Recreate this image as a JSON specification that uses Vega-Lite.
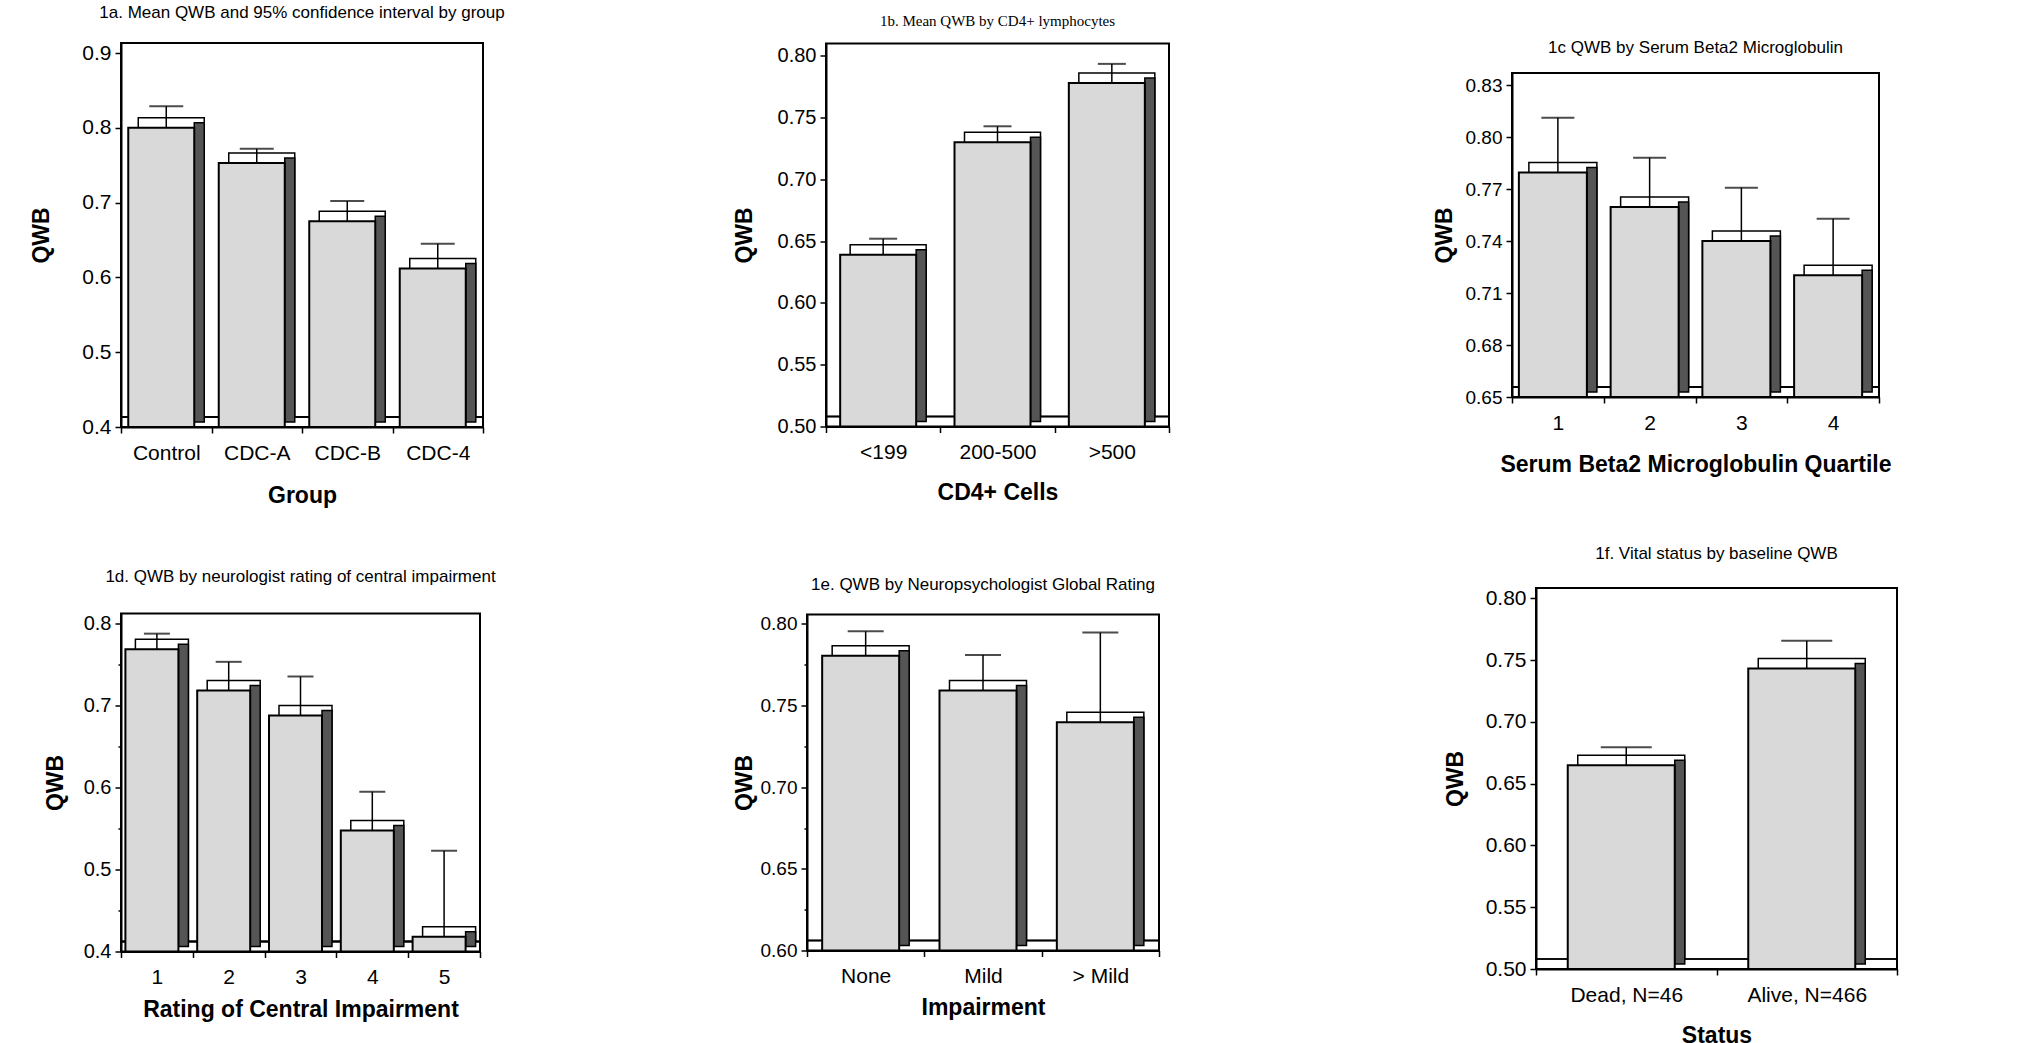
{
"$schema": "https://vega.github.io/schema/vega-lite/v6.json",
"background": "white",
"padding": {"left": 29, "top": 3, "right": 5, "bottom": 5},
"datasets": {
"a": [{"cat":"Control","qwb":0.800,"upper":0.829},{"cat":"CDC-A","qwb":0.753,"upper":0.772},{"cat":"CDC-B","qwb":0.675,"upper":0.702},{"cat":"CDC-4","qwb":0.612,"upper":0.645}],
"b": [{"cat":"<199","qwb":0.639,"upper":0.652},{"cat":"200-500","qwb":0.730,"upper":0.743},{"cat":">500","qwb":0.778,"upper":0.7935}],
"c": [{"cat":"1","qwb":0.7796,"upper":0.8113},{"cat":"2","qwb":0.7597,"upper":0.7882},{"cat":"3","qwb":0.7401,"upper":0.7709},{"cat":"4","qwb":0.7203,"upper":0.753}],
"d": [{"cat":"1","qwb":0.769,"upper":0.788},{"cat":"2","qwb":0.7186,"upper":0.7536},{"cat":"3","qwb":0.688,"upper":0.7357},{"cat":"4","qwb":0.5477,"upper":0.595},{"cat":"5","qwb":0.418,"upper":0.523}],
"e": [{"cat":"None","qwb":0.7806,"upper":0.7955},{"cat":"Mild","qwb":0.7592,"upper":0.781},{"cat":"> Mild","qwb":0.7398,"upper":0.7947}],
"f": [{"cat":"Dead, N=46","qwb":0.665,"upper":0.6794},{"cat":"Alive, N=466","qwb":0.7433,"upper":0.7657}]
},
"spacing": 36,
"vconcat": [
{
"hconcat": [
{
"width": 362, "height": 384,
"title": {"text": "1a.  Mean QWB and 95% confidence interval by group", "offset": 20},
"data": {"name": "a"},
"layer": [
{"mark": {"type": "rule", "yOffset": -10, "strokeWidth": 1.5, "color": "black"},
 "encoding": {"y": {"datum": 0.4, "type": "quantitative", "title": "QWB", "scale": {"domain": [0.4, 0.9134], "nice": false, "zero": false}, "axis": {"values": [0.4, 0.45, 0.5, 0.55, 0.6, 0.65, 0.7, 0.75, 0.8, 0.85, 0.9], "format": ".1f", "labelExpr": "indexof([0.4, 0.5, 0.6, 0.7, 0.8, 0.9], datum.value) < 0 ? '' : datum.label", "tickSize": {"condition": {"test": "indexof([0.4, 0.5, 0.6, 0.7, 0.8, 0.9], datum.value) < 0", "value": 3}, "value": 6}, "titlePadding": 28, "labelFontSize": 21}}}},
{"mark": {"type": "bar", "width": 66, "xOffset": 5, "yOffset": -10, "y2Offset": -10, "fill": "white", "stroke": "black", "strokeWidth": 1.5},
 "encoding": {"x": {"field": "cat", "type": "nominal", "sort": null, "title": "Group", "scale": {"paddingInner": 0, "paddingOuter": 0}, "axis": {"titlePadding": 21}},
  "y": {"field": "qwb", "type": "quantitative", "title": "QWB", "scale": {"domain": [0.4, 0.9134], "nice": false, "zero": false}}, "y2": {"datum": 0.4}}},
{"mark": {"type": "bar", "width": 10, "xOffset": 33, "yOffset": -5, "y2Offset": -5, "fill": "#555555", "stroke": "black", "strokeWidth": 1.5},
 "encoding": {"x": {"field": "cat", "type": "nominal", "sort": null, "title": "Group", "scale": {"paddingInner": 0, "paddingOuter": 0}},
  "y": {"field": "qwb", "type": "quantitative", "title": "QWB", "scale": {"domain": [0.4, 0.9134], "nice": false, "zero": false}}, "y2": {"datum": 0.4}}},
{"mark": {"type": "bar", "width": 66, "xOffset": -5, "fill": "#d9d9d9", "stroke": "black", "strokeWidth": 2},
 "encoding": {"x": {"field": "cat", "type": "nominal", "sort": null, "title": "Group", "scale": {"paddingInner": 0, "paddingOuter": 0}},
  "y": {"field": "qwb", "type": "quantitative", "title": "QWB", "scale": {"domain": [0.4, 0.9134], "nice": false, "zero": false}}, "y2": {"datum": 0.4}}},
{"mark": {"type": "rule", "strokeWidth": 1.5, "color": "black"},
 "encoding": {"x": {"field": "cat", "type": "nominal", "sort": null, "title": "Group", "scale": {"paddingInner": 0, "paddingOuter": 0}},
  "y": {"field": "qwb", "type": "quantitative", "title": "QWB", "scale": {"domain": [0.4, 0.9134], "nice": false, "zero": false}}, "y2": {"field": "upper"}}},
{"mark": {"type": "tick", "size": 34, "thickness": 2, "color": "black"},
 "encoding": {"x": {"field": "cat", "type": "nominal", "sort": null, "title": "Group", "scale": {"paddingInner": 0, "paddingOuter": 0}},
  "y": {"field": "upper", "type": "quantitative", "title": "QWB", "scale": {"domain": [0.4, 0.9134], "nice": false, "zero": false}}}}
]
},
{
"width": 343, "height": 383,
"title": {"text": "1b.  Mean QWB by CD4+ lymphocytes", "offset": 15, "font": "Liberation Serif", "fontSize": 15},
"data": {"name": "b"},
"layer": [
{"mark": {"type": "rule", "yOffset": -10, "strokeWidth": 1.5, "color": "black"},
 "encoding": {"y": {"datum": 0.5, "type": "quantitative", "title": "QWB", "scale": {"domain": [0.5, 0.81], "nice": false, "zero": false}, "axis": {"values": [0.5, 0.525, 0.55, 0.575, 0.6, 0.625, 0.65, 0.675, 0.7, 0.725, 0.75, 0.775, 0.8], "format": ".2f", "labelExpr": "indexof([0.5, 0.55, 0.6, 0.65, 0.7, 0.75, 0.8], datum.value) < 0 ? '' : datum.label", "tickSize": {"condition": {"test": "indexof([0.5, 0.55, 0.6, 0.65, 0.7, 0.75, 0.8], datum.value) < 0", "value": 3}, "value": 6}, "titlePadding": 21, "labelFontSize": 20}}}},
{"mark": {"type": "bar", "width": 76, "xOffset": 5, "yOffset": -10, "y2Offset": -10, "fill": "white", "stroke": "black", "strokeWidth": 1.5},
 "encoding": {"x": {"field": "cat", "type": "nominal", "sort": null, "title": "CD4+  Cells", "scale": {"paddingInner": 0, "paddingOuter": 0}, "axis": {"titlePadding": 19}},
  "y": {"field": "qwb", "type": "quantitative", "title": "QWB", "scale": {"domain": [0.5, 0.81], "nice": false, "zero": false}}, "y2": {"datum": 0.5}}},
{"mark": {"type": "bar", "width": 10, "xOffset": 38, "yOffset": -5, "y2Offset": -5, "fill": "#555555", "stroke": "black", "strokeWidth": 1.5},
 "encoding": {"x": {"field": "cat", "type": "nominal", "sort": null, "title": "CD4+  Cells", "scale": {"paddingInner": 0, "paddingOuter": 0}},
  "y": {"field": "qwb", "type": "quantitative", "title": "QWB", "scale": {"domain": [0.5, 0.81], "nice": false, "zero": false}}, "y2": {"datum": 0.5}}},
{"mark": {"type": "bar", "width": 76, "xOffset": -5, "fill": "#d9d9d9", "stroke": "black", "strokeWidth": 2},
 "encoding": {"x": {"field": "cat", "type": "nominal", "sort": null, "title": "CD4+  Cells", "scale": {"paddingInner": 0, "paddingOuter": 0}},
  "y": {"field": "qwb", "type": "quantitative", "title": "QWB", "scale": {"domain": [0.5, 0.81], "nice": false, "zero": false}}, "y2": {"datum": 0.5}}},
{"mark": {"type": "rule", "strokeWidth": 1.5, "color": "black"},
 "encoding": {"x": {"field": "cat", "type": "nominal", "sort": null, "title": "CD4+  Cells", "scale": {"paddingInner": 0, "paddingOuter": 0}},
  "y": {"field": "qwb", "type": "quantitative", "title": "QWB", "scale": {"domain": [0.5, 0.81], "nice": false, "zero": false}}, "y2": {"field": "upper"}}},
{"mark": {"type": "tick", "size": 28, "thickness": 2, "color": "black"},
 "encoding": {"x": {"field": "cat", "type": "nominal", "sort": null, "title": "CD4+  Cells", "scale": {"paddingInner": 0, "paddingOuter": 0}},
  "y": {"field": "upper", "type": "quantitative", "title": "QWB", "scale": {"domain": [0.5, 0.81], "nice": false, "zero": false}}}}
]
},
{
"width": 367, "height": 324,
"title": {"text": "1c QWB by Serum Beta2 Microglobulin", "offset": 16},
"data": {"name": "c"},
"layer": [
{"mark": {"type": "rule", "yOffset": -10, "strokeWidth": 1.5, "color": "black"},
 "encoding": {"y": {"datum": 0.65, "type": "quantitative", "title": "QWB", "scale": {"domain": [0.65, 0.8371], "nice": false, "zero": false}, "axis": {"values": [0.65, 0.665, 0.68, 0.695, 0.71, 0.725, 0.74, 0.755, 0.77, 0.785, 0.8, 0.815, 0.83], "format": ".2f", "labelExpr": "indexof([0.65, 0.68, 0.71, 0.74, 0.77, 0.8, 0.83], datum.value) < 0 ? '' : datum.label", "tickSize": {"condition": {"test": "indexof([0.65, 0.68, 0.71, 0.74, 0.77, 0.8, 0.83], datum.value) < 0", "value": 3}, "value": 6}, "titlePadding": 9, "labelFontSize": 19}}}},
{"mark": {"type": "bar", "width": 68, "xOffset": 5, "yOffset": -10, "y2Offset": -10, "fill": "white", "stroke": "black", "strokeWidth": 1.5},
 "encoding": {"x": {"field": "cat", "type": "nominal", "sort": null, "title": "Serum Beta2 Microglobulin Quartile", "scale": {"paddingInner": 0, "paddingOuter": 0}, "axis": {"titlePadding": 20}},
  "y": {"field": "qwb", "type": "quantitative", "title": "QWB", "scale": {"domain": [0.65, 0.8371], "nice": false, "zero": false}}, "y2": {"datum": 0.65}}},
{"mark": {"type": "bar", "width": 10, "xOffset": 34, "yOffset": -5, "y2Offset": -5, "fill": "#555555", "stroke": "black", "strokeWidth": 1.5},
 "encoding": {"x": {"field": "cat", "type": "nominal", "sort": null, "title": "Serum Beta2 Microglobulin Quartile", "scale": {"paddingInner": 0, "paddingOuter": 0}},
  "y": {"field": "qwb", "type": "quantitative", "title": "QWB", "scale": {"domain": [0.65, 0.8371], "nice": false, "zero": false}}, "y2": {"datum": 0.65}}},
{"mark": {"type": "bar", "width": 68, "xOffset": -5, "fill": "#d9d9d9", "stroke": "black", "strokeWidth": 2},
 "encoding": {"x": {"field": "cat", "type": "nominal", "sort": null, "title": "Serum Beta2 Microglobulin Quartile", "scale": {"paddingInner": 0, "paddingOuter": 0}},
  "y": {"field": "qwb", "type": "quantitative", "title": "QWB", "scale": {"domain": [0.65, 0.8371], "nice": false, "zero": false}}, "y2": {"datum": 0.65}}},
{"mark": {"type": "rule", "strokeWidth": 1.5, "color": "black"},
 "encoding": {"x": {"field": "cat", "type": "nominal", "sort": null, "title": "Serum Beta2 Microglobulin Quartile", "scale": {"paddingInner": 0, "paddingOuter": 0}},
  "y": {"field": "qwb", "type": "quantitative", "title": "QWB", "scale": {"domain": [0.65, 0.8371], "nice": false, "zero": false}}, "y2": {"field": "upper"}}},
{"mark": {"type": "tick", "size": 33, "thickness": 2, "color": "black"},
 "encoding": {"x": {"field": "cat", "type": "nominal", "sort": null, "title": "Serum Beta2 Microglobulin Quartile", "scale": {"paddingInner": 0, "paddingOuter": 0}},
  "y": {"field": "upper", "type": "quantitative", "title": "QWB", "scale": {"domain": [0.65, 0.8371], "nice": false, "zero": false}}}}
]
}
],
"spacing": 343,
"bounds": "flush",
"center": true
},
{
"hconcat": [
{
"hconcat": [
{
"width": 359, "height": 338,
"title": {"text": "1d. QWB by neurologist rating of central impairment", "offset": 28},
"data": {"name": "d"},
"layer": [
{"mark": {"type": "rule", "yOffset": -10, "strokeWidth": 1.5, "color": "black"},
 "encoding": {"y": {"datum": 0.4, "type": "quantitative", "title": "QWB", "scale": {"domain": [0.4, 0.8126], "nice": false, "zero": false}, "axis": {"values": [0.4, 0.45, 0.5, 0.55, 0.6, 0.65, 0.7, 0.75, 0.8], "format": ".1f", "labelExpr": "indexof([0.4, 0.5, 0.6, 0.7, 0.8], datum.value) < 0 ? '' : datum.label", "tickSize": {"condition": {"test": "indexof([0.4, 0.5, 0.6, 0.7, 0.8], datum.value) < 0", "value": 3}, "value": 6}, "titlePadding": 16, "labelFontSize": 20}}}},
{"mark": {"type": "bar", "width": 53, "xOffset": 5, "yOffset": -10, "y2Offset": -10, "fill": "white", "stroke": "black", "strokeWidth": 1.5},
 "encoding": {"x": {"field": "cat", "type": "nominal", "sort": null, "title": "Rating of Central Impairment", "scale": {"paddingInner": 0, "paddingOuter": 0}, "axis": {"titlePadding": 11}},
  "y": {"field": "qwb", "type": "quantitative", "title": "QWB", "scale": {"domain": [0.4, 0.8126], "nice": false, "zero": false}}, "y2": {"datum": 0.4}}},
{"mark": {"type": "bar", "width": 10, "xOffset": 26.5, "yOffset": -5, "y2Offset": -5, "fill": "#555555", "stroke": "black", "strokeWidth": 1.5},
 "encoding": {"x": {"field": "cat", "type": "nominal", "sort": null, "title": "Rating of Central Impairment", "scale": {"paddingInner": 0, "paddingOuter": 0}},
  "y": {"field": "qwb", "type": "quantitative", "title": "QWB", "scale": {"domain": [0.4, 0.8126], "nice": false, "zero": false}}, "y2": {"datum": 0.4}}},
{"mark": {"type": "bar", "width": 53, "xOffset": -5, "fill": "#d9d9d9", "stroke": "black", "strokeWidth": 2},
 "encoding": {"x": {"field": "cat", "type": "nominal", "sort": null, "title": "Rating of Central Impairment", "scale": {"paddingInner": 0, "paddingOuter": 0}},
  "y": {"field": "qwb", "type": "quantitative", "title": "QWB", "scale": {"domain": [0.4, 0.8126], "nice": false, "zero": false}}, "y2": {"datum": 0.4}}},
{"mark": {"type": "rule", "strokeWidth": 1.5, "color": "black"},
 "encoding": {"x": {"field": "cat", "type": "nominal", "sort": null, "title": "Rating of Central Impairment", "scale": {"paddingInner": 0, "paddingOuter": 0}},
  "y": {"field": "qwb", "type": "quantitative", "title": "QWB", "scale": {"domain": [0.4, 0.8126], "nice": false, "zero": false}}, "y2": {"field": "upper"}}},
{"mark": {"type": "tick", "size": 26, "thickness": 2, "color": "black"},
 "encoding": {"x": {"field": "cat", "type": "nominal", "sort": null, "title": "Rating of Central Impairment", "scale": {"paddingInner": 0, "paddingOuter": 0}},
  "y": {"field": "upper", "type": "quantitative", "title": "QWB", "scale": {"domain": [0.4, 0.8126], "nice": false, "zero": false}}}}
]
},
{
"width": 352, "height": 336,
"title": {"text": "1e. QWB by Neuropsychologist Global Rating", "offset": 21},
"data": {"name": "e"},
"layer": [
{"mark": {"type": "rule", "yOffset": -10, "strokeWidth": 1.5, "color": "black"},
 "encoding": {"y": {"datum": 0.6, "type": "quantitative", "title": "QWB", "scale": {"domain": [0.6, 0.8058], "nice": false, "zero": false}, "axis": {"values": [0.6, 0.625, 0.65, 0.675, 0.7, 0.725, 0.75, 0.775, 0.8], "format": ".2f", "labelExpr": "indexof([0.6, 0.65, 0.7, 0.75, 0.8], datum.value) < 0 ? '' : datum.label", "tickSize": {"condition": {"test": "indexof([0.6, 0.65, 0.7, 0.75, 0.8], datum.value) < 0", "value": 3}, "value": 6}, "titlePadding": 4, "labelFontSize": 19}}}},
{"mark": {"type": "bar", "width": 77, "xOffset": 5, "yOffset": -10, "y2Offset": -10, "fill": "white", "stroke": "black", "strokeWidth": 1.5},
 "encoding": {"x": {"field": "cat", "type": "nominal", "sort": null, "title": "Impairment", "scale": {"paddingInner": 0, "paddingOuter": 0}, "axis": {"titlePadding": 10}},
  "y": {"field": "qwb", "type": "quantitative", "title": "QWB", "scale": {"domain": [0.6, 0.8058], "nice": false, "zero": false}}, "y2": {"datum": 0.6}}},
{"mark": {"type": "bar", "width": 10, "xOffset": 38.5, "yOffset": -5, "y2Offset": -5, "fill": "#555555", "stroke": "black", "strokeWidth": 1.5},
 "encoding": {"x": {"field": "cat", "type": "nominal", "sort": null, "title": "Impairment", "scale": {"paddingInner": 0, "paddingOuter": 0}},
  "y": {"field": "qwb", "type": "quantitative", "title": "QWB", "scale": {"domain": [0.6, 0.8058], "nice": false, "zero": false}}, "y2": {"datum": 0.6}}},
{"mark": {"type": "bar", "width": 77, "xOffset": -5, "fill": "#d9d9d9", "stroke": "black", "strokeWidth": 2},
 "encoding": {"x": {"field": "cat", "type": "nominal", "sort": null, "title": "Impairment", "scale": {"paddingInner": 0, "paddingOuter": 0}},
  "y": {"field": "qwb", "type": "quantitative", "title": "QWB", "scale": {"domain": [0.6, 0.8058], "nice": false, "zero": false}}, "y2": {"datum": 0.6}}},
{"mark": {"type": "rule", "strokeWidth": 1.5, "color": "black"},
 "encoding": {"x": {"field": "cat", "type": "nominal", "sort": null, "title": "Impairment", "scale": {"paddingInner": 0, "paddingOuter": 0}},
  "y": {"field": "qwb", "type": "quantitative", "title": "QWB", "scale": {"domain": [0.6, 0.8058], "nice": false, "zero": false}}, "y2": {"field": "upper"}}},
{"mark": {"type": "tick", "size": 36, "thickness": 2, "color": "black"},
 "encoding": {"x": {"field": "cat", "type": "nominal", "sort": null, "title": "Impairment", "scale": {"paddingInner": 0, "paddingOuter": 0}},
  "y": {"field": "upper", "type": "quantitative", "title": "QWB", "scale": {"domain": [0.6, 0.8058], "nice": false, "zero": false}}}}
]
}
],
"spacing": 327,
"bounds": "flush",
"center": true
},
{
"width": 361, "height": 381,
"title": {"text": "1f.   Vital status by baseline QWB", "offset": 24},
"data": {"name": "f"},
"layer": [
{"mark": {"type": "rule", "yOffset": -10, "strokeWidth": 1.5, "color": "black"},
 "encoding": {"y": {"datum": 0.5, "type": "quantitative", "title": "QWB", "scale": {"domain": [0.5, 0.8084], "nice": false, "zero": false}, "axis": {"values": [0.5, 0.525, 0.55, 0.575, 0.6, 0.625, 0.65, 0.675, 0.7, 0.725, 0.75, 0.775, 0.8], "format": ".2f", "labelExpr": "indexof([0.5, 0.55, 0.6, 0.65, 0.7, 0.75, 0.8], datum.value) < 0 ? '' : datum.label", "tickSize": {"condition": {"test": "indexof([0.5, 0.55, 0.6, 0.65, 0.7, 0.75, 0.8], datum.value) < 0", "value": 3}, "value": 6}, "titlePadding": 18, "labelFontSize": 21}}}},
{"mark": {"type": "bar", "width": 107, "xOffset": 5, "yOffset": -10, "y2Offset": -10, "fill": "white", "stroke": "black", "strokeWidth": 1.5},
 "encoding": {"x": {"field": "cat", "type": "nominal", "sort": null, "title": "Status", "scale": {"paddingInner": 0, "paddingOuter": 0}, "axis": {"titlePadding": 19}},
  "y": {"field": "qwb", "type": "quantitative", "title": "QWB", "scale": {"domain": [0.5, 0.8084], "nice": false, "zero": false}}, "y2": {"datum": 0.5}}},
{"mark": {"type": "bar", "width": 10, "xOffset": 53.5, "yOffset": -5, "y2Offset": -5, "fill": "#555555", "stroke": "black", "strokeWidth": 1.5},
 "encoding": {"x": {"field": "cat", "type": "nominal", "sort": null, "title": "Status", "scale": {"paddingInner": 0, "paddingOuter": 0}},
  "y": {"field": "qwb", "type": "quantitative", "title": "QWB", "scale": {"domain": [0.5, 0.8084], "nice": false, "zero": false}}, "y2": {"datum": 0.5}}},
{"mark": {"type": "bar", "width": 107, "xOffset": -5, "fill": "#d9d9d9", "stroke": "black", "strokeWidth": 2},
 "encoding": {"x": {"field": "cat", "type": "nominal", "sort": null, "title": "Status", "scale": {"paddingInner": 0, "paddingOuter": 0}},
  "y": {"field": "qwb", "type": "quantitative", "title": "QWB", "scale": {"domain": [0.5, 0.8084], "nice": false, "zero": false}}, "y2": {"datum": 0.5}}},
{"mark": {"type": "rule", "strokeWidth": 1.5, "color": "black"},
 "encoding": {"x": {"field": "cat", "type": "nominal", "sort": null, "title": "Status", "scale": {"paddingInner": 0, "paddingOuter": 0}},
  "y": {"field": "qwb", "type": "quantitative", "title": "QWB", "scale": {"domain": [0.5, 0.8084], "nice": false, "zero": false}}, "y2": {"field": "upper"}}},
{"mark": {"type": "tick", "size": 51, "thickness": 2, "color": "black"},
 "encoding": {"x": {"field": "cat", "type": "nominal", "sort": null, "title": "Status", "scale": {"paddingInner": 0, "paddingOuter": 0}},
  "y": {"field": "upper", "type": "quantitative", "title": "QWB", "scale": {"domain": [0.5, 0.8084], "nice": false, "zero": false}}}}
]
}
],
"spacing": 282,
"center": true
}
],
"config": {
"view": {"stroke": "black", "strokeWidth": 2},
"axis": {"domainColor": "black", "domainWidth": 2, "tickColor": "black", "tickWidth": 1.5, "tickSize": 6, "labelColor": "black", "labelFont": "Liberation Sans", "labelFontSize": 21, "titleColor": "black", "titleFont": "Liberation Sans", "titleFontSize": 23, "titleFontWeight": "bold", "grid": false},
"axisX": {"labelAngle": 0, "labelPadding": 9, "tickBand": "extent"},
"axisY": {"labelPadding": 4},
"title": {"font": "Liberation Sans", "fontSize": 17, "fontWeight": "normal", "color": "black", "anchor": "middle", "frame": "group"}
}
}
